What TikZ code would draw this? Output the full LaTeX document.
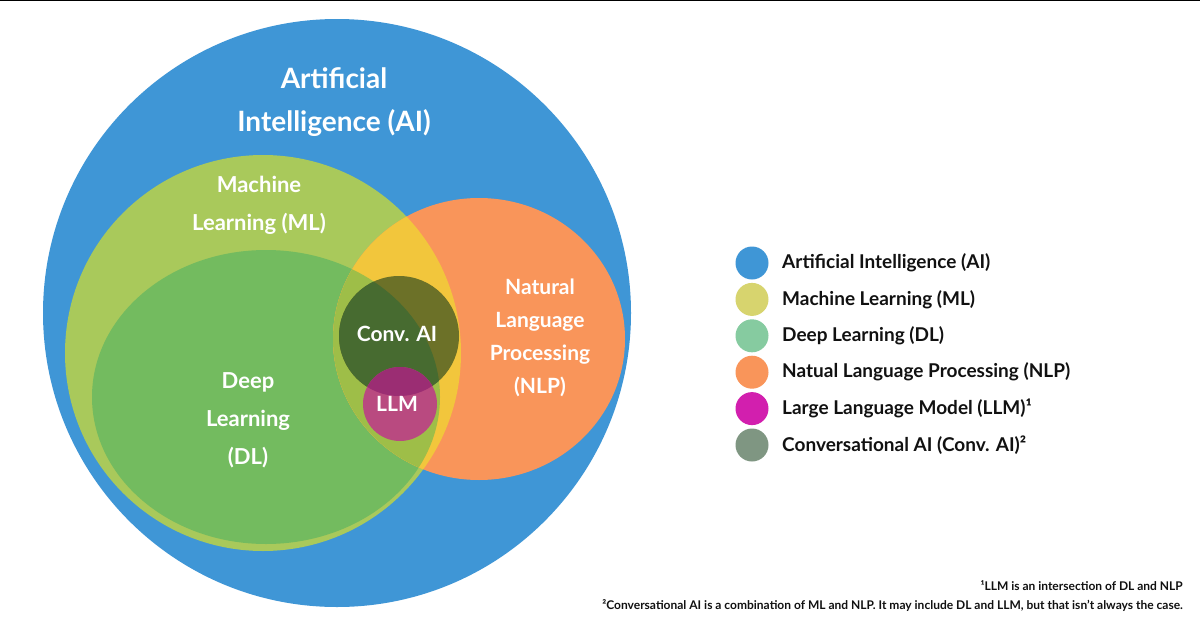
\documentclass[tikz,border=0pt]{standalone}
\usepackage{fontspec}
\setmainfont{Lato}
\definecolor{aiB}{HTML}{3F96D6}
\definecolor{mlC}{HTML}{A9C95B}
\definecolor{dlC}{HTML}{73BB5F}
\definecolor{nlpC}{HTML}{F9955A}
\definecolor{mlnlp}{HTML}{F2C63C}
\definecolor{dlnlp}{HTML}{9EBE48}
\definecolor{convO}{HTML}{6C7128}
\definecolor{convG}{HTML}{476B30}
\definecolor{llmC}{HTML}{B94A80}
\definecolor{llmD}{HTML}{9B2D73}
\definecolor{legML}{HTML}{D7D46E}
\definecolor{legDL}{HTML}{86CBA0}
\definecolor{legLLM}{HTML}{D21FAE}
\definecolor{legConv}{HTML}{7F9682}
\definecolor{txt}{HTML}{111111}
\begin{document}
\begin{tikzpicture}[x=1pt,y=-1pt,
  lab/.style={text=white,font=\bfseries,align=center,inner sep=0},
  legdot/.style={circle,minimum size=33pt,inner sep=0},
  legtxt/.style={anchor=west,font=\fontsize{19}{22}\selectfont\bfseries,text=txt,inner sep=0},
  foot/.style={anchor=east,font=\fontsize{12}{14}\selectfont\bfseries,text=txt,inner sep=0}]
\useasboundingbox (0,0) rectangle (1200,624);
\fill[white] (0,0) rectangle (1200,624);
\draw[black,line width=2pt] (0,0) -- (1200,0);
\def\mlpath{(263,353) circle[radius=198]}
\def\dlpath{(266,397) ellipse[x radius=174,y radius=147]}
\def\nlppath{(479,339) ellipse[x radius=146,y radius=141]}
\def\convpath{(399,336) circle[radius=60]}
\def\llmpath{(400,404) circle[radius=37]}
\fill[aiB] (337,313) circle[radius=294];
\fill[mlC] \mlpath;
\fill[dlC] \dlpath;
\fill[nlpC] \nlppath;
\begin{scope}\clip \nlppath; \fill[mlnlp] \mlpath; \fill[dlnlp] \dlpath; \end{scope}
\fill[convO] \convpath;
\begin{scope}\clip \convpath; \fill[convG] \dlpath; \end{scope}
\fill[llmC] \llmpath;
\begin{scope}\clip \llmpath; \fill[llmD] \convpath; \end{scope}
\node[lab,font=\fontsize{28}{43}\selectfont\bfseries] (ai) at (334,102) {Artificial\\Intelligence (AI)};
\node[lab,font=\fontsize{22}{38}\selectfont\bfseries] (ml) at (259,205) {Machine\\Learning (ML)};
\node[lab,font=\fontsize{22}{38}\selectfont\bfseries] (dl) at (248,420) {Deep\\Learning\\(DL)};
\node[lab,font=\fontsize{21}{33}\selectfont\bfseries] (nlp) at (540,338) {Natural\\Language\\Processing\\(NLP)};
\node[lab,font=\fontsize{21}{25}\selectfont\bfseries] (conv) at (397,334) {Conv. AI};
\node[lab,font=\fontsize{21}{25}\selectfont\bfseries] (llm) at (397,404) {LLM};
\foreach \c/\t [count=\i] in {aiB/Artificial Intelligence (AI),legML/Machine Learning (ML),legDL/Deep Learning (DL),nlpC/Natual Language Processing (NLP),legLLM/Large Language Model (LLM)¹,legConv/Conversational AI (Conv. AI)²}{
  \node[legdot,fill=\c] (d\i) at (752,{263+36.4*(\i-1)}) {};
  \node[legtxt] (t\i) at (782,{263+36.4*(\i-1)}) {\t};
}
\node[foot] (f1) at (1183,586) {¹LLM is an intersection of DL and NLP};
\node[foot] (f2) at (1183,606) {²Conversational AI is a combination of ML and NLP. It may include DL and LLM, but that isn't always the case.};
\end{tikzpicture}
\end{document}
